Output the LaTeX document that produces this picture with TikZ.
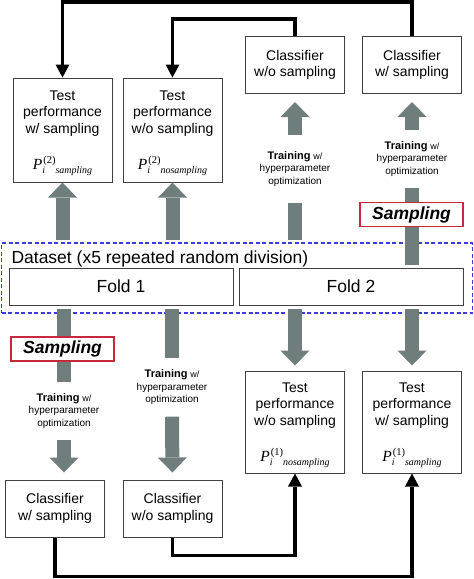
\documentclass[tikz,border=0pt]{standalone}
\usepackage{fontspec}
\setmainfont{Liberation Sans}
\newfontfamily\serifit{Liberation Serif}
\usetikzlibrary{positioning,arrows.meta}
\definecolor{shaftgray}{RGB}{112,125,125}
\definecolor{dsblue}{RGB}{60,60,215}
\definecolor{sampred}{RGB}{200,40,60}
\newcommand{\perfidx}[2]{{\serifit\itshape\fontsize{15.5}{16}\selectfont P\rlap{\raisebox{-4.5pt}[0pt][0pt]{\fontsize{10}{10}\selectfont i}}\kern1pt\raisebox{6pt}{\upshape\fontsize{10.5}{10}\selectfont(#1)}\raisebox{-4.5pt}[0pt][0pt]{\fontsize{10}{10}\selectfont #2}}}
\newcommand{\trainlabel}{\textbf{\fontsize{11}{12.5}\selectfont Training} {\fontsize{9}{9}\selectfont w/}\\hyperparameter\\optimization}
\tikzset{
  every node/.style={font=\fontsize{14}{16.7}\selectfont, align=center},
  box/.style={draw=black!75, line width=1pt, fill=white, inner sep=0pt},
  testbox/.style={box, minimum width=99pt, minimum height=104pt},
  clfbox/.style={box, minimum width=99pt, minimum height=57pt},
  foldbox/.style={box, minimum width=224pt, minimum height=37pt, font=\fontsize{17.5}{20}\selectfont},
  sampbox/.style={draw=sampred, line width=1.3pt, fill=white, minimum width=103pt, minimum height=24pt, inner sep=0pt, font=\fontsize{17.5}{20}\selectfont\bfseries\itshape},
  trainlbl/.style={font=\fontsize{10}{12.5}\selectfont, minimum height=58pt, inner sep=0pt},
  shaft/.style={draw=shaftgray, line width=14pt},
  fat/.style={shaft, -{Triangle[length=15pt, width=29pt, line width=0pt]}},
  link/.style={line width=3.5pt, -{Triangle[length=13pt, width=14pt, line width=0pt]}},
}
\begin{document}
\begin{tikzpicture}[x=1pt, y=-1pt]
\useasboundingbox (0,0) rectangle (474,579);
% dataset and folds
\node[draw=dsblue, dashed, dash pattern=on 4pt off 2.5pt, line width=1.2pt, minimum width=471pt, minimum height=70pt] (dataset) at (237,278) {};
\node[anchor=base west, font=\fontsize{17.5}{20}\selectfont] (dslbl) at (8,263) {Dataset (x5 repeated random division)};
\node[foldbox] (fold1) at (121,286.5) {Fold 1};
\node[foldbox, right=5pt of fold1] (fold2) {Fold 2};
\coordinate (dstop) at (0,240);
\coordinate (dsmid) at (0,265);
\coordinate (dsbot) at (0,309);

% upper half: trained on fold 2, tested on fold 1
\node[testbox] (test2w) at (62.5,130) {Test\\performance\\w/ sampling\\[19pt]\perfidx{2}{sampling}};
\node[testbox, right=10pt of test2w] (test2n) {Test\\performance\\w/o sampling\\[19pt]\perfidx{2}{nosampling}};
\node[clfbox] (clf2n) at (295,65) {Classifier\\w/o sampling};
\node[clfbox] (clf2w) at (412,65) {Classifier\\w/ sampling};
\node[trainlbl, minimum height=68pt] (train2n) at (295,169) {\trainlabel};
\node[trainlbl] (train2w) at (412,159) {\trainlabel};

% lower half: trained on fold 1, tested on fold 2
\node[clfbox] (clf1w) at (55,508.5) {Classifier\\w/ sampling};
\node[clfbox] (clf1n) at (172.5,508.5) {Classifier\\w/o sampling};
\node[testbox, minimum height=102pt] (test1n) at (295,422) {Test\\performance\\w/o sampling\\[19pt]\perfidx{1}{nosampling}};
\node[testbox, minimum height=102pt] (test1w) at (412,422) {Test\\performance\\w/ sampling\\[19pt]\perfidx{1}{sampling}};
\node[trainlbl] (train1w) at (64,411) {\trainlabel};
\node[trainlbl] (train1n) at (172,387.5) {\trainlabel};

% gray arrows
\draw[fat] (test2w.south |- dstop) -- (test2w.south);
\draw[fat] (test2n.south |- dstop) -- (test2n.south);
\draw[shaft] (train2n.south |- dstop) -- (train2n.south);
\draw[fat, shorten >=8pt] (train2n.north) -- (clf2n.south);
\draw[shaft] (train2w.south |- dsmid) -- (train2w.south);
\draw[fat, shorten >=8pt] (train2w.north) -- (clf2w.south);
\draw[shaft] (train1w.north |- dsbot) -- (train1w.north);
\draw[fat, shorten >=7pt] (train1w.south) -- (train1w.south |- clf1w.north);
\draw[shaft] (train1n.north |- dsbot) -- (train1n.north);
\draw[fat, shorten >=7pt] (train1n.south) -- (clf1n.north);
\draw[fat, shorten >=5pt] (test1n.north |- dsbot) -- (test1n.north);
\draw[fat, shorten >=5pt] (test1w.north |- dsbot) -- (test1w.north);

\node[sampbox] (samp2) at (411.5,214.5) {Sampling};
\node[sampbox] (samp1) at (62.5,349) {Sampling};

% classifiers to test sets
\draw[link] (clf2w.north) -- ++(0,-34) -| (test2w.north);
\draw[link] (clf2n.north) -- ++(0,-17) -| (test2n.north);
\draw[link] (clf1w.south) -- ++(0,39) -| (test1w.south);
\draw[link] (clf1n.south) -- ++(0,18) -| (test1n.south);
\end{tikzpicture}
\end{document}
